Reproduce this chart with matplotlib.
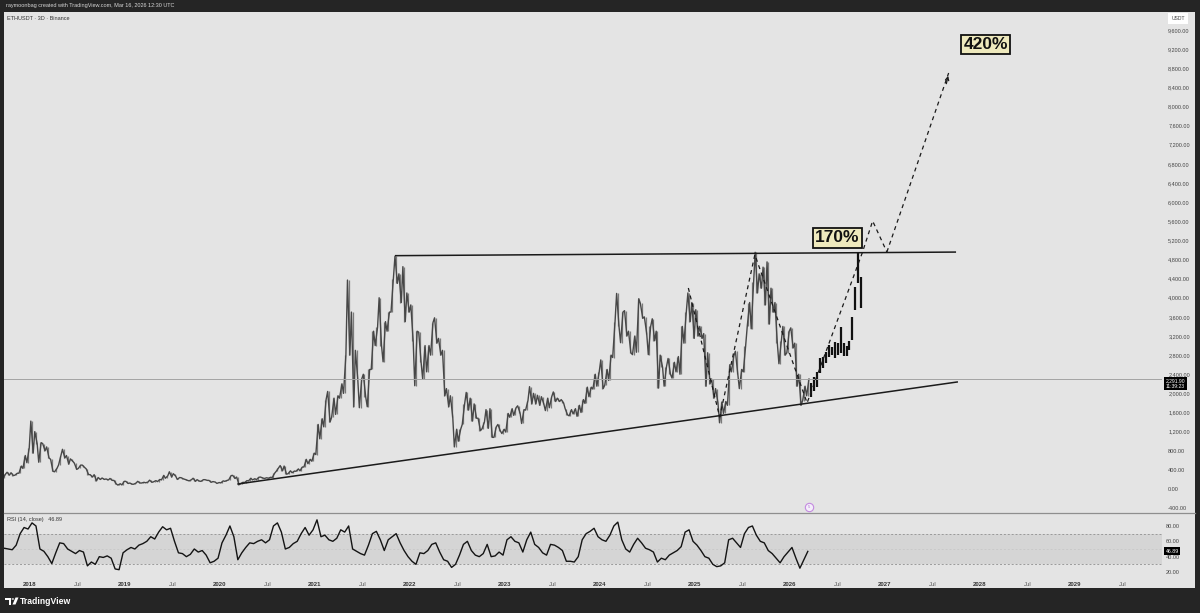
import matplotlib
matplotlib.use("Agg")
import matplotlib.pyplot as plt
import numpy as np
from matplotlib.patches import Rectangle, Circle, Polygon
from matplotlib.transforms import blended_transform_factory
from matplotlib.ticker import FuncFormatter

plt.rcParams["font.family"] = ["Liberation Sans", "DejaVu Sans"]

# ETHUSDT, half-month ranges starting mid Aug 2017
start_year = 2017.625
price_hi = [
    390, 400, 310, 350, 340, 330, 480, 700, 860,  # 2017
    1420, 1200, 970, 950, 880, 620, 430, 700, 830, 700, 630, 540,
    500, 500, 420, 300, 300, 240, 230, 210, 220, 180, 110, 160,  # 2018
    160, 125, 125, 160, 140, 145, 185, 175, 200, 285, 275, 360,
    320, 240, 235, 200, 195, 225, 195, 195, 195, 180, 155, 135,  # 2019
    170, 180, 280, 285, 250, 140, 175, 225, 215, 245, 250, 235,
    245, 330, 440, 490, 480, 380, 375, 420, 460, 620, 620, 750,  # 2020
    1350, 1470, 1870, 2040, 1900, 1950, 2200, 2800, 4370, 3700, 2900, 2300,
    2400, 2500, 3300, 3380, 4000, 3500, 3700, 4400, 4870, 4500, 4650, 4100,  # 2021
    3850, 3300, 3280, 3000, 3000, 3480, 3580, 3150, 2900, 2100, 1950, 1250,
    1250, 1780, 2020, 1900, 1780, 1480, 1400, 1660, 1680, 1300, 1350, 1250,  # 2022
    1580, 1680, 1700, 1740, 1660, 1850, 2140, 2000, 1960, 1930, 1900, 1930,
    2030, 1900, 1870, 1680, 1660, 1680, 1750, 1870, 2130, 2130, 2400, 2450,  # 2023
    2700, 2500, 2800, 3500, 4090, 3700, 3730, 3300, 3200, 3980, 3880, 3600,
    3400, 3560, 3300, 2800, 2560, 2730, 2650, 2770, 3400, 3700, 4100, 3900,  # 2024
    3750, 3400, 3250, 2850, 2300, 2100, 1820, 1830, 2600, 2780, 2880, 2500,
    3000, 3900, 4330, 4950, 4500, 4640, 4750, 4200, 3900, 3100, 3400, 3300,  # 2025
    3370, 3050, 2400, 2150, 2300,  # 2026
]
price_lo = [
    280, 230, 230, 290, 280, 290, 330, 430, 550,
    750, 950, 560, 800, 650, 370, 360, 500, 650, 520, 580, 410,
    430, 450, 300, 250, 170, 200, 200, 190, 180, 105, 82, 85,
    115, 100, 100, 125, 125, 130, 140, 150, 155, 190, 225, 250,
    270, 200, 210, 180, 170, 160, 165, 160, 180, 140, 145, 117,
    127, 160, 190, 220, 90, 110, 135, 170, 190, 195, 230, 220,
    225, 240, 370, 380, 310, 320, 340, 370, 380, 460, 530, 580,
    720, 1050, 1300, 1400, 1500, 1560, 1900, 2000, 2800, 1720, 2300, 1700,
    1930, 1720, 2500, 3000, 3000, 2660, 3300, 3700, 4300, 3900, 3500, 3700,
    3100, 2160, 2650, 2300, 2450, 2800, 3050, 2800, 1950, 1720, 1500, 880,
    1000, 1350, 1650, 1420, 1480, 1220, 1260, 1270, 1080, 1080, 1220, 1160,
    1190, 1500, 1540, 1590, 1370, 1650, 1780, 1780, 1750, 1780, 1640, 1700,
    1830, 1830, 1800, 1550, 1530, 1570, 1520, 1600, 1790, 1930, 2090, 2150,
    2100, 2170, 2270, 2750, 3400, 3060, 3200, 2850, 2810, 2860, 3570, 3250,
    2810, 3100, 2110, 2550, 2150, 2400, 2320, 2450, 2400, 3050, 3500, 3150,
    3200, 3150, 2150, 2200, 1900, 1800, 1385, 1580, 1750, 2450, 2400, 2100,
    2450, 3400, 3350, 4100, 4200, 3850, 3450, 3700, 3050, 2620, 2800, 2850,
    2950, 2150, 1750, 1850, 1950,
]
rsi = [
    52, 48, 51, 50, 49, 55, 70, 78, 76,
    84, 80, 50, 47, 40, 31, 45, 58, 57, 50, 47, 44, 48, 46, 28, 33, 30, 40, 39, 41, 38, 24, 23, 45,
    49, 52, 50, 55, 57, 60, 66, 63, 72, 79, 75, 77, 60, 45, 44, 40, 43, 50, 46, 48, 42, 32, 34, 38,
    58, 68, 80, 66, 36, 45, 52, 58, 57, 60, 62, 58, 62, 80, 84, 72, 50, 52, 57, 60, 70, 78, 68, 75,
    88, 66, 68, 62, 60, 64, 75, 72, 80, 50, 47, 44, 42, 55, 70, 73, 62, 48, 62, 66, 70, 58, 48, 40,
    34, 30, 45, 44, 48, 56, 58, 46, 36, 34, 26, 30, 42, 56, 60, 48, 42, 40, 44, 56, 40, 41, 46, 42,
    62, 66, 60, 58, 46, 62, 72, 56, 52, 45, 42, 56, 55, 52, 48, 34, 34, 33, 40, 62, 70, 73, 77, 66,
    62, 60, 68, 80, 85, 62, 50, 46, 56, 64, 58, 51, 49, 46, 33, 38, 36, 42, 45, 48, 53, 72, 75, 60,
    55, 48, 40, 38, 30, 27, 28, 32, 62, 64, 58, 52, 70, 78, 80, 68, 60, 58, 48, 44, 38, 32, 40, 46,
    52, 38, 25, 36, 46.89,
]

# projected bars pattern (drawn by the author)
proj_start = 2026.22
proj_hi = [2220, 2350, 2450, 2740, 2760, 2870, 3010, 2970, 3080,
           3050, 3390, 3050, 3000, 3100, 3600, 4230, 4950, 4440]
proj_lo = [1920, 2050, 2130, 2420, 2530, 2630, 2760, 2800, 2740,
           2800, 2850, 2780, 2780, 2900, 3120, 3740, 4300, 3790]

# drawings
res_years, res_prices = [2021.85, 2027.74], [4880, 4955]
sup_years, sup_prices = [2020.19, 2027.76], [105, 2238]
swing_years = [2024.93, 2025.26, 2025.63, 2026.18, 2026.76, 2026.87, 2027.02, 2027.67]
swing_prices = [4204, 1506, 4900, 1800, 4936, 5605, 4957, 8700]
last_price = 2291.90
last_rsi = 46.89

W, H = 1200, 613
BG = "#e4e4e4"
FRAME = "#252525"
X0, X1 = 2017.726, 2029.916


def box(x0, y0, x1, y1):
    return [x0 / W, 1 - y1 / H, (x1 - x0) / W, (y1 - y0) / H]


def clean(ax):
    ax.set_facecolor("none")
    for s in ax.spines.values():
        s.set_visible(False)


fig = plt.figure(figsize=(12, 6.13), dpi=100, facecolor=FRAME)
fig.add_artist(Rectangle((4 / W, 1 - 588 / H), 1191 / W, 576 / H,
                         transform=fig.transFigure, fc=BG, ec="none", zorder=0))

# ---- price pane
ax = fig.add_axes(box(4, 12, 1162, 513))
clean(ax)
ax.set_xlim(X0, X1)
ax.set_ylim(-502, 9976)
ax.set_xticks([])
ax.yaxis.tick_right()
ax.set_yticks(np.arange(-400, 9601, 400))
ax.yaxis.set_major_formatter(FuncFormatter(lambda v, _: f"{v:,.2f}"))
ax.tick_params(axis="y", length=0, pad=4.5, labelsize=4, labelcolor="#444")

t = start_year + (np.arange(len(price_hi)) + 0.5) / 24
hi = np.array(price_hi)
lo = np.array(price_lo)
# zigzag through each half-month range, in the direction of the move
mid = (hi + lo) / 2
up = np.append(np.diff(mid) > 0, mid[-1] > mid[-2])
zx = np.column_stack([t - 1 / 80, t + 1 / 80]).ravel()
zy = np.column_stack([np.where(up, lo, hi), np.where(up, hi, lo)]).ravel()
ax.vlines(t, lo, hi, color="#7a7a7a", lw=0.9)
ax.plot(zx, zy, color="#474747", lw=1.0)

tp = proj_start + np.arange(len(proj_hi)) / 32
ax.vlines(tp, proj_lo, proj_hi, color="#111111", lw=1.6)

ax.axhline(last_price, color="#a3a3a3", lw=0.7)
ax.plot(res_years, res_prices, color="#1a1a1a", lw=1.1)
ax.plot(sup_years, sup_prices, color="#1a1a1a", lw=1.1)
ax.plot(swing_years[:-1], swing_prices[:-1], color="#1a1a1a", lw=0.9,
        ls=(0, (3.2, 3)))
ax.plot(swing_years[-2:], swing_prices[-2:], color="#1a1a1a", lw=0.9,
        ls=(0, (3.2, 3)))
ax.annotate("", xy=(swing_years[-1], swing_prices[-1]),
            xytext=(swing_years[-1] - 0.03, swing_prices[-1] - 280),
            arrowprops=dict(arrowstyle="->", color="#1a1a1a", lw=0.9,
                            mutation_scale=6))

lbl = dict(fontsize=12.5, fontweight="bold", ha="center", va="center",
           color="#111111")
ax.text(2026.5, 5250, "170%",
        bbox=dict(boxstyle="square,pad=0.14", fc="#eee9bd", ec="#111111", lw=1.3), **lbl)
ax.text(2028.06, 9297, "420%",
        bbox=dict(boxstyle="square,pad=0.14", fc="#eee9bd", ec="#111111", lw=1.3), **lbl)

ax.plot([2026.2], [-380], "o", ms=6, mfc="#f4eefa", mec="#c48ae0", mew=0.8,
        clip_on=False)
ax.text(2026.2, -380, "5", fontsize=3, color="#b070d0", ha="center", va="center")

yb = blended_transform_factory(ax.transAxes, ax.transData)
ax.text(1.003, 2207, "2,291.90\n11:39:23", transform=yb, fontsize=3.6,
        color="white", va="center", ha="left", linespacing=1.1,
        bbox=dict(boxstyle="square,pad=0.35", fc="black", ec="none"))

# ---- separator
fig.add_artist(plt.Line2D([4 / W, 1195 / W], [1 - 513 / H] * 2,
                          transform=fig.transFigure, color="#8e8e8e", lw=0.9))

# ---- RSI pane
rx = fig.add_axes(box(4, 514, 1162, 576))
clean(rx)
rx.set_xlim(X0, X1)
rx.set_ylim(14.8, 95.6)
rx.axhspan(30, 70, color="#d5d5d5", lw=0)
for lvl, c in ((70, "#9a9a9a"), (30, "#9a9a9a"), (50, "#c9c9c9")):
    rx.axhline(lvl, color=c, lw=0.7, ls=(0, (2, 2)))
rx.plot(t, rsi, color="#141414", lw=1.0)
rx.yaxis.tick_right()
rx.set_yticks([20, 40, 60, 80])
rx.yaxis.set_major_formatter(FuncFormatter(lambda v, _: f"{v:.2f}"))
rx.tick_params(axis="y", length=0, pad=2.5, labelsize=4, labelcolor="#444")

years = list(range(2018, 2030))
ticks, labels = [], []
for y in years:
    ticks += [y, y + 0.5]
    labels += [str(y), "Jul"]
rx.set_xticks(ticks)
rx.set_xticklabels(labels)
rx.tick_params(axis="x", length=0, pad=4, labelsize=4.3, labelcolor="#333")
for lab in rx.get_xticklabels():
    if lab.get_text() != "Jul":
        lab.set_fontweight("bold")
    else:
        lab.set_color("#555")

rb = blended_transform_factory(rx.transAxes, rx.transData)
rx.text(1.003, last_rsi, f"{last_rsi:.2f}", transform=rb, fontsize=3.8,
        color="white", va="center", ha="left",
        bbox=dict(boxstyle="square,pad=0.3", fc="black", ec="none"))

# ---- header / labels
fig.text(6 / W, 1 - 6 / H, "raymoonbag created with TradingView.com, Mar 16, 2026 12:30 UTC",
         color="#d6d6d6", fontsize=4, va="center")
fig.text(7 / W, 1 - 18 / H, "ETHUSDT · 3D · Binance", color="#333", fontsize=4,
         va="center")
fig.text(7 / W, 1 - 519 / H, "RSI (14, close)   46.89", color="#333", fontsize=4,
         va="center")
fig.text(1178 / W, 1 - 18 / H, "USDT", color="#444", fontsize=3.6, va="center",
         ha="center", bbox=dict(boxstyle="square,pad=0.6", fc="white", ec="none"))


# TradingView logo
def fpt(x, y):
    return (x / W, 1 - y / H)


fig.add_artist(Polygon([fpt(5, 597.5), fpt(11, 597.5), fpt(11, 604.5), fpt(8.5, 604.5),
                        fpt(8.5, 600), fpt(5, 600)], closed=True,
                       transform=fig.transFigure, fc="white", ec="none"))
fig.add_artist(Circle(fpt(12.8, 599), 1.3 / W, transform=fig.transFigure,
                      fc="white", ec="none"))
fig.add_artist(Polygon([fpt(15.5, 597.5), fpt(18.5, 597.5), fpt(15.5, 604.5),
                        fpt(12.5, 604.5)], closed=True,
                       transform=fig.transFigure, fc="white", ec="none"))
fig.text(20 / W, 1 - 601 / H, "TradingView", color="white", fontsize=6.2,
         fontweight="bold", va="center")

fig.savefig("out.png", dpi=100, facecolor=FRAME)
